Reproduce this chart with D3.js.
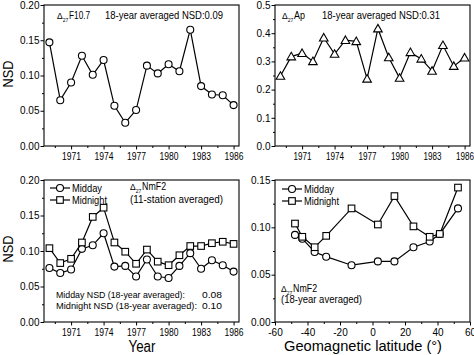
<!DOCTYPE html>
<html><head><meta charset="utf-8">
<script src="https://cdn.jsdelivr.net/npm/d3@7"></script>
<style>
body{margin:0;background:#fff}
svg{display:block}
text{font-family:"Liberation Sans",Arial,Helvetica,sans-serif;fill:#000}
</style>
</head><body>
<svg id="c" width="474" height="355"></svg>
<script>
// ---------- data ----------
const years = [1969,1970,1971,1972,1973,1974,1975,1976,1977,1978,1979,1980,1981,1982,1983,1984,1985,1986];
const yearTicks = [1971,1974,1977,1980,1983,1986];
const yearMinor = [1969.5,1972.5,1975.5,1978.5,1981.5,1984.5];
const f107NSD = [0.147,0.065,0.090,0.128,0.101,0.122,0.057,0.033,0.051,0.114,0.103,0.116,0.106,0.165,0.085,0.073,0.072,0.058];
const apNSD = [0.248,0.317,0.329,0.300,0.384,0.326,0.375,0.371,0.238,0.416,0.314,0.241,0.332,0.309,0.266,0.357,0.283,0.313];
const nmf2MiddayYear = [0.076,0.069,0.074,0.103,0.108,0.125,0.078,0.079,0.064,0.088,0.064,0.062,0.079,0.097,0.075,0.087,0.080,0.071];
const nmf2MidnightYear = [0.104,0.083,0.089,0.112,0.148,0.161,0.112,0.099,0.082,0.102,0.085,0.080,0.094,0.107,0.107,0.111,0.113,0.110];
const latitudes = [-47.7,-43.2,-35.6,-28.5,-12.9,3.3,13.5,25.2,35.2,41.4,52.6];
const nmf2MiddayLat = [0.092,0.088,0.074,0.069,0.060,0.064,0.064,0.079,0.085,0.093,0.120];
const nmf2MidnightLat = [0.104,0.090,0.079,0.091,0.120,0.103,0.133,0.101,0.090,0.093,0.142];
const latTicks = [-60,-40,-20,0,20,40,60];
const latMinor = [-50,-30,-10,10,30,50];

const svg = d3.select("#c");

function panel(o){
  const g = svg.append("g");
  const x = d3.scaleLinear().domain(o.xd).range([o.x0,o.x1]);
  const y = d3.scaleLinear().domain(o.yd).range([o.y1,o.y0]);
  const style = sel => { sel.select(".domain").remove(); sel.selectAll("line").attr("stroke","#000").attr("stroke-width",1); sel.selectAll("text").attr("font-size",10).attr("font-family","Liberation Sans, Arial, sans-serif").attr("fill","#000"); };
  g.append("g").attr("transform",`translate(0,${o.y1})`).call(d3.axisBottom(x).tickValues(o.xMinor).tickSize(2).tickFormat("")).call(style);
  const xa = g.append("g").attr("transform",`translate(0,${o.y1})`).call(d3.axisBottom(x).tickValues(o.xMajor).tickSize(3.5).tickPadding(3).tickFormat(o.xf)).call(style);
  if(o.xLabelLen) xa.selectAll("text").attr("textLength",o.xLabelLen).attr("lengthAdjust","spacingAndGlyphs");
  g.append("g").attr("transform",`translate(${o.x0},0)`).call(d3.axisLeft(y).tickValues(o.yMinor).tickSize(2).tickFormat("")).call(style);
  g.append("g").attr("transform",`translate(${o.x0},0)`).call(d3.axisLeft(y).tickValues(o.yMajor).tickSize(3.5).tickPadding(1).tickFormat(o.yf)).call(style);
  g.append("rect").attr("x",o.x0).attr("y",o.y0).attr("width",o.x1-o.x0).attr("height",o.y1-o.y0)
    .attr("fill","none").attr("stroke","#000").attr("stroke-width",1.1);
  return {g,x,y};
}

function drawMarker(g, shape, cx, cy){
  if(shape==="circle"){
    g.append("circle").attr("cx",cx).attr("cy",cy).attr("r",3.5).attr("fill","#fff").attr("stroke","#000").attr("stroke-width",1.1);
  } else if(shape==="square"){
    g.append("rect").attr("x",cx-3.3).attr("y",cy-3.3).attr("width",6.6).attr("height",6.6).attr("fill","#fff").attr("stroke","#000").attr("stroke-width",1.1);
  } else {
    const s=4.3;
    g.append("path").attr("d",`M${cx},${cy-s}L${cx+s},${cy+s*0.75}L${cx-s},${cy+s*0.75}Z`).attr("fill","#fff").attr("stroke","#000").attr("stroke-width",1.1);
  }
}

function series(p, xs, ys, shape){
  const line = d3.line().x(d=>p.x(d[0])).y(d=>p.y(d[1]));
  const pts = xs.map((v,i)=>[v,ys[i]]);
  p.g.append("path").attr("d",line(pts)).attr("fill","none").attr("stroke","#000").attr("stroke-width",1.2);
  pts.forEach(d=>drawMarker(p.g, shape, p.x(d[0]), p.y(d[1])));
}

function txt(g, x, y, s, size, len){
  const t = g.append("text").attr("x",x).attr("y",y).attr("font-size",size).text(s);
  if(len) t.attr("textLength",len).attr("lengthAdjust","spacingAndGlyphs");
  return t;
}

function deltaLabel(g, x, y, name, len){
  const t = g.append("text").attr("x",x).attr("y",y).attr("font-size",10);
  t.append("tspan").text("Δ").attr("font-size",8.5);
  t.append("tspan").text("27").attr("font-size",5).attr("dy",2.5);
  t.append("tspan").text(name).attr("dy",-2.5).attr("dx",0.8).attr("textLength",len).attr("lengthAdjust","spacingAndGlyphs");
  return t;
}

function legend(g, x, y, label, shape, len){
  g.append("line").attr("x1",x).attr("x2",x+20).attr("y1",y).attr("y2",y).attr("stroke","#000").attr("stroke-width",1.2);
  drawMarker(g, shape, x+10, y);
  txt(g, x+22, y+3.5, label, 10, len);
}

const yearX = [1968.5,1986.5];
const fmt2 = d3.format(".2f"), fmt1 = d3.format(".1f");

// Top-left
const p1 = panel({x0:44,x1:239,y0:5,y1:146,xd:yearX,yd:[0,0.2],xMajor:yearTicks,xMinor:yearMinor,xLabelLen:19,
  yMajor:[0,0.05,0.1,0.15,0.2],yMinor:[0.025,0.075,0.125,0.175],xf:d=>d,yf:fmt2});
series(p1, years, f107NSD, "circle");
deltaLabel(p1.g, 57, 19, "F10.7", 21);
txt(p1.g, 105, 19, "18-year averaged NSD:0.09", 10.5, 118);

// Top-right
const p2 = panel({x0:275,x1:470,y0:5,y1:146,xd:yearX,yd:[0,0.5],xMajor:yearTicks,xMinor:yearMinor,xLabelLen:18,
  yMajor:[0,0.1,0.2,0.3,0.4,0.5],yMinor:[0.05,0.15,0.25,0.35,0.45],xf:d=>d,yf:fmt1});
series(p2, years, apNSD, "triangle");
deltaLabel(p2.g, 282, 19, "Ap", 11);
txt(p2.g, 322, 19, "18-year averaged NSD:0.31", 10.5, 118);

// Bottom-left
const p3 = panel({x0:44,x1:239,y0:180,y1:322,xd:yearX,yd:[0,0.2],xMajor:yearTicks,xMinor:yearMinor,xLabelLen:19,
  yMajor:[0,0.05,0.1,0.15,0.2],yMinor:[0.025,0.075,0.125,0.175],xf:d=>d,yf:fmt2});
series(p3, years, nmf2MiddayYear, "circle");
series(p3, years, nmf2MidnightYear, "square");
legend(p3.g, 50, 188, "Midday", "circle", 30);
legend(p3.g, 50, 200, "Midnight", "square", 35);
deltaLabel(p3.g, 130, 190, "NmF2", 24);
txt(p3.g, 130, 203, "(11-station averaged)", 10, 93);
txt(p3.g, 56, 298, "Midday NSD (18-year averaged):", 9.5, 129);
txt(p3.g, 202, 298, "0.08", 9.5, 20);
txt(p3.g, 56, 309, "Midnight NSD (18-year averaged):", 9.5, 141);
txt(p3.g, 202, 309, "0.10", 9.5, 20);

// Bottom-right
const p4 = panel({x0:275,x1:470,y0:180,y1:322,xd:[-60,60],yd:[0,0.15],xMajor:latTicks,xMinor:latMinor,
  yMajor:[0,0.05,0.1,0.15],yMinor:[0.025,0.075,0.125],xf:d=>String(d),yf:fmt2});
series(p4, latitudes, nmf2MiddayLat, "circle");
series(p4, latitudes, nmf2MidnightLat, "square");
legend(p4.g, 282, 189, "Midday", "circle", 30);
legend(p4.g, 282, 201, "Midnight", "square", 35);
deltaLabel(p4.g, 281, 292, "NmF2", 24);
txt(p4.g, 281, 303, "(18-year averaged)", 10, 81);

// Axis titles
svg.append("text").attr("transform","translate(13,74) rotate(-90)").attr("text-anchor","middle").attr("font-size",14)
  .attr("textLength",27).attr("lengthAdjust","spacingAndGlyphs").text("NSD");
svg.append("text").attr("transform","translate(13,249) rotate(-90)").attr("text-anchor","middle").attr("font-size",14)
  .attr("textLength",27).attr("lengthAdjust","spacingAndGlyphs").text("NSD");
svg.append("text").attr("x",142).attr("y",352).attr("text-anchor","middle").attr("font-size",16)
  .attr("textLength",27).attr("lengthAdjust","spacingAndGlyphs").text("Year");
svg.append("text").attr("x",284).attr("y",351).attr("font-size",15.5)
  .attr("textLength",158).attr("lengthAdjust","spacingAndGlyphs").text("Geomagnetic latitude (°)");
</script>
</body></html>
